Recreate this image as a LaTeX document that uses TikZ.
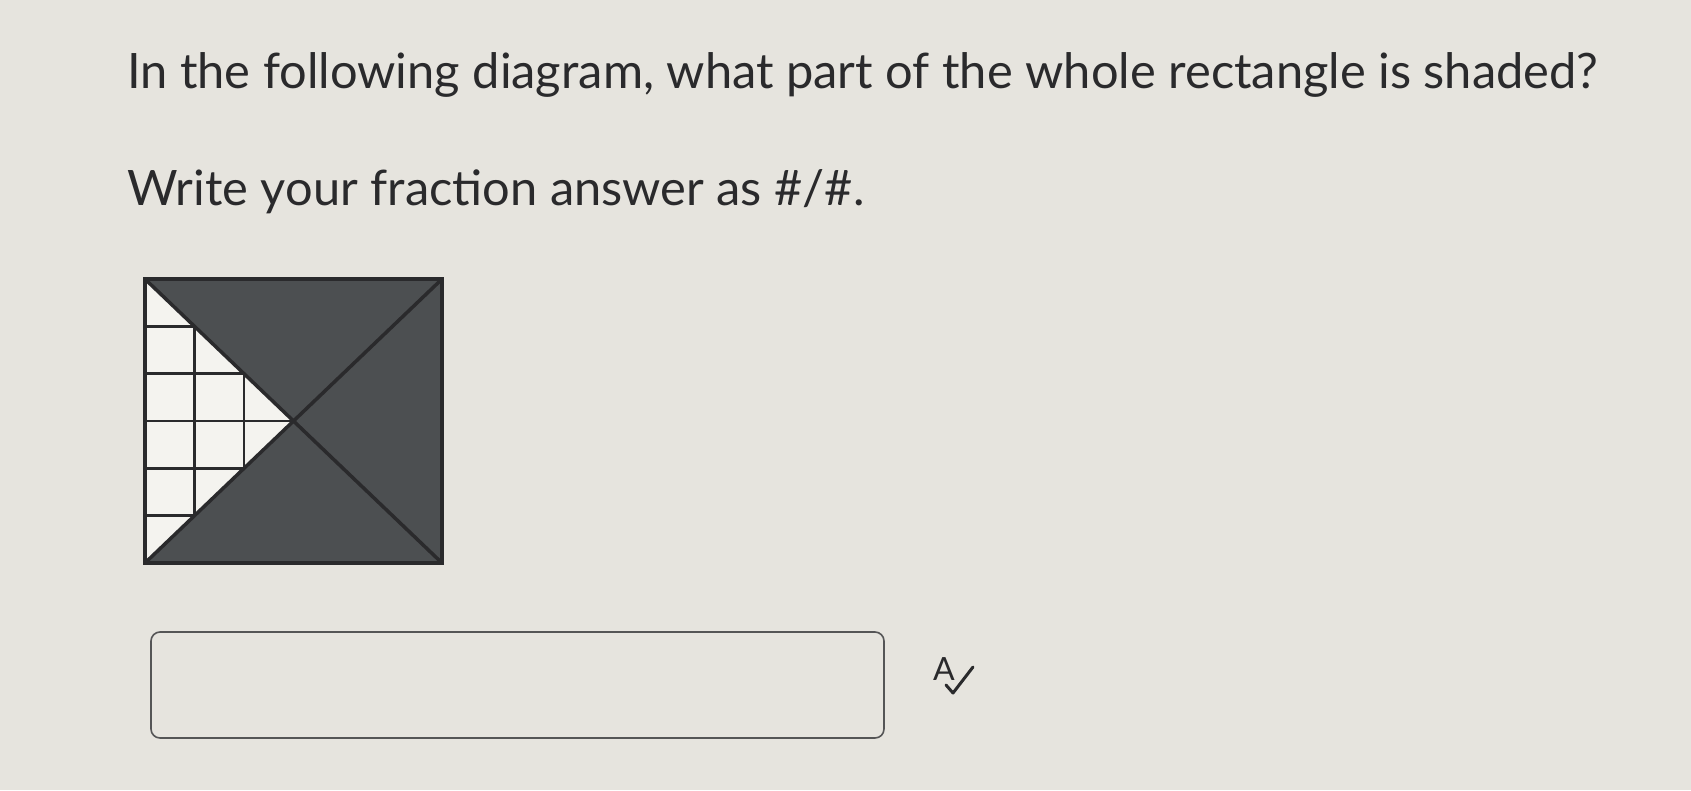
\documentclass[tikz,border=0pt]{standalone}
\usepackage{fontspec}
\setmainfont{Lato}
\usetikzlibrary{positioning}
\definecolor{paper}{HTML}{E6E4DE}
\definecolor{ink}{HTML}{2A2A2C}
\definecolor{darkfill}{HTML}{4C4F51}
\definecolor{blank}{HTML}{F4F3EF}
\tikzset{
  prompt/.style={anchor=base west, inner sep=0pt, text=ink, font=\fontsize{48.8}{58}\selectfont},
  grid line/.style={draw=ink, line width=2.4pt},
  edge line/.style={draw=ink, line width=3.5pt},
  answerbox/.style={draw=ink!80, line width=1.6pt, rounded corners=9pt, minimum width=733pt, minimum height=106pt, inner sep=0pt},
}

\begin{document}
\begin{tikzpicture}[x=1pt, y=-1pt]
\fill[paper] (0,0) rectangle (1691,790);
\useasboundingbox (0,0) rectangle (1691,790);
\node[prompt] (q1) at (127,88) {In the following diagram, what part of the whole rectangle is shaded?};
\node[prompt] (q2) at (127,205) {Write your fraction answer as \#/\#.};

\coordinate (bl) at (145,563);
\begin{scope}[shift={(bl)}, x=49.5pt, y=47.33pt]
\fill[darkfill] (0,0) -- (6,0) -- (6,6) -- (0,6) -- (3,3) -- cycle;
\fill[blank] (0,0) -- (3,3) -- (0,6) -- cycle;
\begin{scope}
\clip (0,0) -- (3,3) -- (0,6) -- cycle;
\foreach \i in {1,2} \draw[grid line] (\i,0) -- (\i,6);
\foreach \j in {1,...,5} \draw[grid line] (0,\j) -- (3,\j);
\end{scope}
\draw[edge line] (0,0) -- (6,6) (0,6) -- (6,0);
\draw[edge line] (0,0) rectangle (6,6);
\end{scope}

\node[answerbox] (answer) at (517.5,685) {};
\node[anchor=base, inner sep=0pt, text=ink, font=\fontsize{32}{38}\selectfont] (icon) at (944,680) {A};
\draw[ink, line width=3pt, line cap=round, line join=round]
  ([shift={(2,5)}]icon.base) -- ++(7,8) -- ++(20,-26);
\end{tikzpicture}
\end{document}
